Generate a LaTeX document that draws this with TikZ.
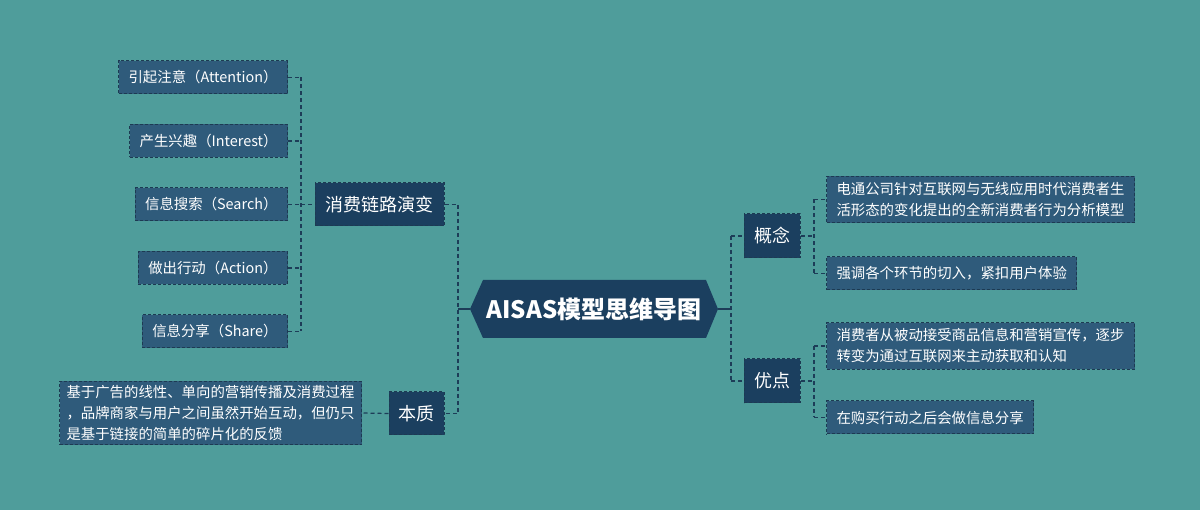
\documentclass[tikz,border=0pt]{standalone}
\usepackage{fontspec}
\newfontfamily\cjk{Noto Sans CJK SC}
\usetikzlibrary{calc}
\definecolor{bgc}{HTML}{4F9D9B}
\definecolor{branchc}{HTML}{1B3F5F}
\definecolor{leafc}{HTML}{2F5B7B}
\definecolor{bordc}{HTML}{1D3A52}
\definecolor{connc}{HTML}{1D3D58}
\tikzset{
  leaf/.style={fill=leafc, draw=bordc, line width=1pt, dash pattern=on 3pt off 2pt,
    text=white, font=\cjk\fontsize{14.4}{21}\selectfont, align=left,
    inner xsep=10pt, inner ysep=6pt, minimum height=33pt},
  branch/.style={fill=branchc, draw=bordc, line width=1pt, dash pattern=on 3pt off 2pt,
    text=white, font=\cjk\fontsize{18}{22}\selectfont,
    inner xsep=9pt, minimum height=43pt},
  conn/.style={draw=connc, line width=1.2pt, dash pattern=on 4pt off 3pt},
  solidconn/.style={draw=connc, line width=1.3pt}
}
\begin{document}
\begin{tikzpicture}[x=1pt,y=-1pt]
\fill[bgc] (0,0) rectangle (1200,510);
\useasboundingbox (0,0) rectangle (1200,510);

% central node
\node[minimum width=248pt, minimum height=58pt, inner sep=0pt] (c) at (594,309) {};
\fill[branchc] (470,309) -- (483,280) -- (706,280) -- (718,309) -- (706,338) -- (483,338) -- cycle;
\node[text=white, font=\cjk\bfseries\fontsize{24}{28}\selectfont] (ct) at (594,309) {AISAS模型思维导图};

% left branches
\node[branch, minimum width=129pt] (xf) at (379.5,204.5) {消费链路演变};
\node[branch, minimum width=55pt, inner xsep=0pt] (bz) at (416.5,413.5) {本质};

% left leaves
\node[leaf, anchor=east] (l1) at (288,77.5) {引起注意（Attention）};
\node[leaf, anchor=east] (l2) at (288,141) {产生兴趣（Interest）};
\node[leaf, anchor=east] (l3) at (288,204.5) {信息搜索（Search）};
\node[leaf, anchor=east] (l4) at (288,268) {做出行动（Action）};
\node[leaf, anchor=east] (l5) at (288,331.5) {信息分享（Share）};
\node[leaf, anchor=east, inner ysep=4pt, inner xsep=7pt] (bzl) at (362,413) {基于广告的线性、单向的营销传播及消费过程\\，品牌商家与用户之间虽然开始互动，但仍只\\是基于链接的简单的碎片化的反馈};

% right branches
\node[branch, minimum width=56pt, minimum height=44pt, inner xsep=0pt] (gn) at (772,236) {概念};
\node[branch, minimum width=56pt, minimum height=44pt, inner xsep=0pt] (yd) at (772,381) {优点};

% right leaves
\node[leaf, anchor=west] (r1) at (826,199.5) {电通公司针对互联网与无线应用时代消费者生\\活形态的变化提出的全新消费者行为分析模型};
\node[leaf, anchor=west] (r2) at (826,273.5) {强调各个环节的切入，紧扣用户体验};
\node[leaf, anchor=west] (r3) at (826,346) {消费者从被动接受商品信息和营销宣传，逐步\\转变为通过互联网来主动获取和认知};
\node[leaf, anchor=west] (r4) at (826,417.5) {在购买行动之后会做信息分享};

% junction coordinates
\coordinate (jA) at (301,204.5);
\coordinate (jB) at (458,309);
\coordinate (jC) at (731,309);
\coordinate (jD) at (814,236);
\coordinate (jE) at (814,381);

% left leaf connectors
\foreach \n in {l1,l2,l3,l4,l5}{
  \draw[conn] (\n.east) -- (\n.east -| jA);
}
\draw[conn] (l1.east -| jA) -- (l5.east -| jA);
\draw[conn] (jA) -- (xf.west);

% left branch connectors
\draw[solidconn] (c.west) -- (jB);
\draw[conn] (xf.east) -- (xf.east -| jB) -- (bz.east -| jB) -- (bz.east);
\draw[conn] (bz.west) -- (bzl.east);

% right branch connectors
\draw[solidconn] (c.east) -- (jC);
\draw[conn] (gn.west -| jC) -- (yd.west -| jC);
\draw[conn] (gn.west -| jC) -- (gn.west);
\draw[conn] (yd.west -| jC) -- (yd.west);

% right leaf connectors
\draw[conn] (gn.east) -- (jD);
\draw[conn] (r1.west -| jD) -- (r2.west -| jD);
\draw[conn] (r1.west -| jD) -- (r1.west);
\draw[conn] (r2.west -| jD) -- (r2.west);
\draw[conn] (yd.east) -- (jE);
\draw[conn] (r3.west -| jE) -- (r4.west -| jE);
\draw[conn] (r3.west -| jE) -- (r3.west);
\draw[conn] (r4.west -| jE) -- (r4.west);
\end{tikzpicture}
\end{document}
